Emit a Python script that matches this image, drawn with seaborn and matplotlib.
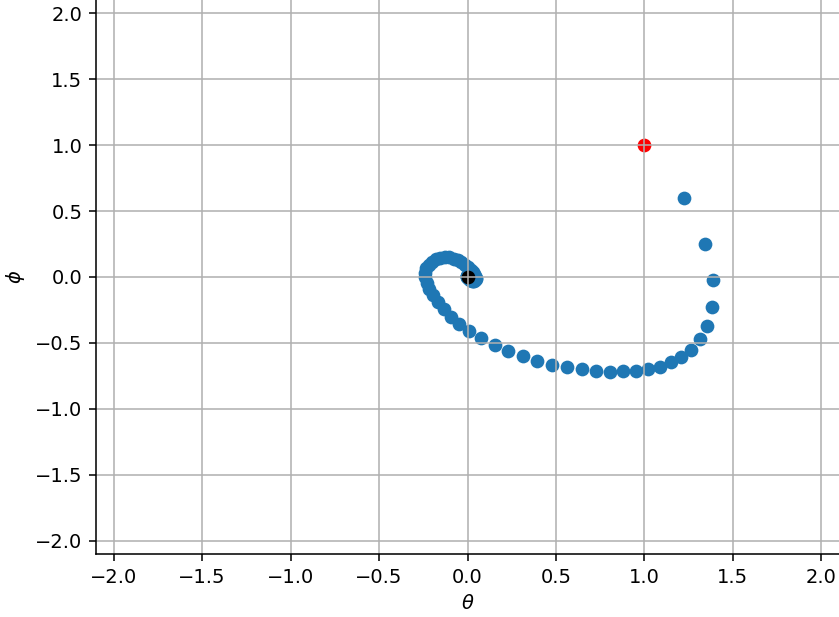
import matplotlib
matplotlib.use("Agg")
import matplotlib.pyplot as plt
import pandas as pd
import seaborn as sns

# trajectory: theta (x) and phi (y)
theta = [1.222, 1.345, 1.388, 1.384, 1.356, 1.315, 1.264, 1.209, 1.149, 1.087,
         1.021, 0.955, 0.880, 0.804, 0.725, 0.648, 0.565, 0.480, 0.395, 0.315,
         0.230, 0.154, 0.079, 0.007, -0.049, -0.095, -0.135, -0.167, -0.194,
         -0.216, -0.230, -0.238, -0.239, -0.233, -0.220, -0.202, -0.180, -0.155,
         -0.129, -0.103, -0.078, -0.055, -0.034, -0.015, 0.002, 0.017, 0.029,
         0.038, 0.044, 0.047, 0.047, 0.044, 0.039, 0.033, 0.026, 0.019, 0.012,
         0.006, 0.001, -0.003, -0.005, -0.005, -0.004, -0.002, 0.000]
phi = [0.596, 0.248, -0.023, -0.225, -0.369, -0.468, -0.553, -0.606, -0.646, -0.679,
       -0.699, -0.710, -0.715, -0.717, -0.710, -0.699, -0.686, -0.667, -0.639, -0.598,
       -0.563, -0.515, -0.460, -0.409, -0.356, -0.300, -0.245, -0.190, -0.138,
       -0.088, -0.043, -0.003, 0.033, 0.066, 0.094, 0.117, 0.134, 0.145,
       0.150, 0.148, 0.140, 0.128, 0.112, 0.094, 0.075, 0.056, 0.038,
       0.021, 0.006, -0.007, -0.017, -0.024, -0.028, -0.030, -0.029, -0.026, -0.021,
       -0.015, -0.008, -0.002, 0.003, 0.006, 0.007, 0.006, 0.004]

start = (1.0, 1.0)
fixed_point = (0.0, 0.0)

df = pd.DataFrame({"theta": theta, "phi": phi})

fig = plt.figure(figsize=(839 / 140, 617 / 140), dpi=140)
ax = fig.add_axes([96 / 839, 63 / 617, 743 / 839, 554 / 617])

sns.scatterplot(data=df, x="theta", y="phi", s=50, linewidth=0, color="#1f77b4", ax=ax)
sns.scatterplot(x=[start[0]], y=[start[1]], s=50, linewidth=0, color="red", ax=ax)
sns.scatterplot(x=[fixed_point[0]], y=[fixed_point[1]], s=50, linewidth=0, color="black", ax=ax)

ax.set_xlim(-2.1, 2.1)
ax.set_ylim(-2.1, 2.1)
ax.set_xlabel(r"$\theta$")
ax.set_ylabel(r"$\phi$")
ax.grid(True)
ax.spines["top"].set_visible(False)
ax.spines["right"].set_visible(False)

fig.savefig("out.png", dpi=140)
